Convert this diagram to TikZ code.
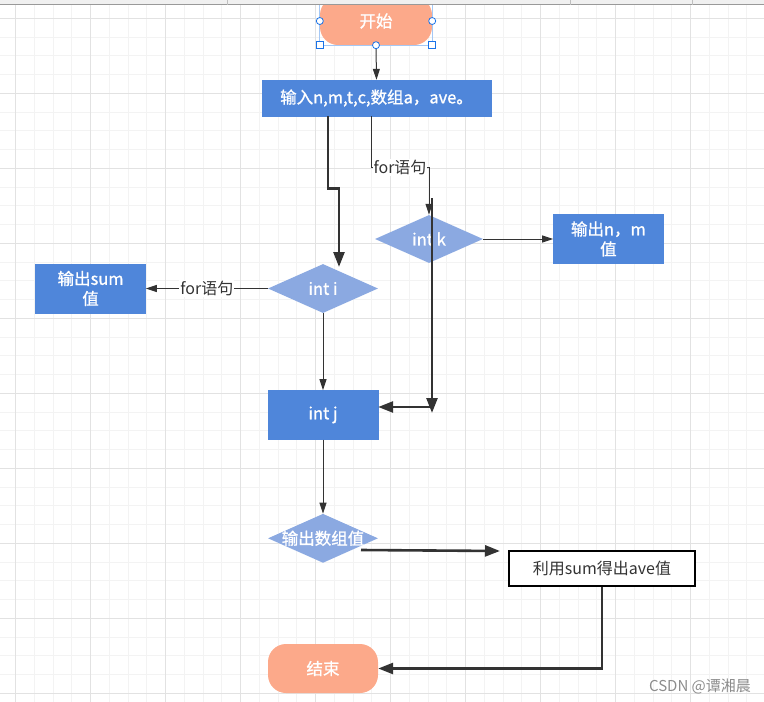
\documentclass[tikz,border=0pt]{standalone}
\usepackage{fontspec}
\setmainfont{Noto Sans CJK SC}
\newfontfamily\boxfont{Noto Sans CJK SC}[FakeBold=1.1]
\usetikzlibrary{positioning,shapes.geometric,arrows.meta}
\definecolor{termfill}{RGB}{252,169,138}
\definecolor{procfill}{RGB}{79,134,218}
\definecolor{decfill}{RGB}{139,169,225}
\definecolor{linecol}{RGB}{51,51,51}
\definecolor{gridminor}{RGB}{243,243,243}
\definecolor{gridmajor}{RGB}{226,226,226}
\definecolor{selblue}{RGB}{26,115,232}
\definecolor{selframe}{RGB}{165,200,245}

\begin{document}
\begin{tikzpicture}[x=1pt,y=-1pt,
		flowfont/.style={font=\boxfont\fontsize{16.5}{20}\selectfont},
		terminal/.style={rectangle,rounded corners=18pt,fill=termfill,text=white,minimum width=110pt,minimum height=49pt,flowfont},
		process/.style={rectangle,fill=procfill,draw=procfill,text=white,align=center,minimum width=110pt,minimum height=49pt,flowfont},
		decision/.style={diamond,aspect=2.2,inner sep=0pt,fill=decfill,text=white,minimum width=110pt,minimum height=49pt,flowfont},
		loop label/.style={fill=white,text=linecol,inner sep=1pt,font=\fontsize{16}{19}\selectfont},
		thin arrow/.style={draw=linecol,line width=1pt,-{Triangle[length=11pt,width=7pt]}},
		thick arrow/.style={draw=linecol,line width=2.6pt,-{Triangle[length=15pt,width=11pt]}}]
		\useasboundingbox (0,0) rectangle (764,702);
		% grid
		\foreach \gx in {0,...,41} \draw[gridminor,line width=.8pt] ({-3.25+18.75*\gx},0) -- ++(0,702);
		\foreach \gy in {0,...,38} \draw[gridminor,line width=.8pt] (0,{-0.45+18.75*\gy}) -- ++(764,0);
		\foreach \gx in {0,...,10} \draw[gridmajor,line width=.8pt] ({15.5+75*\gx},0) -- ++(0,702);
		\foreach \gy in {0,...,9} \draw[gridmajor,line width=.8pt] (0,{18.3+75*\gy}) -- ++(764,0);

		% nodes
		\node[terminal,minimum width=112pt,minimum height=48pt] (start) at (376,21) {开始};
		\node[process,minimum width=229pt,minimum height=36pt] (input) at (376.5,98) {输入n,m,t,c,数组a，ave。};
		\node[decision,minimum width=108pt,minimum height=48pt] (intk) at (429,239) {int k};
		\node[process,right=70pt of intk] (outnm) {输出n，m\\值};
		\node[decision] (inti) at (323,288.5) {int i};
		\node[process,left=122pt of inti] (outsum) {输出sum\\值};
		\node[process,below=77pt of inti] (intj) {int j};
		\node[decision,below=74pt of intj,label={[flowfont,text=white]center:输出数组值}] (outarr) {};
		\node[draw=black,line width=2pt,fill=white,text=linecol,minimum width=186pt,minimum height=35pt,font=\fontsize{16}{19}\selectfont] (calc) at (602,568.5) {利用sum得出ave值};
		\node[terminal] (finish) at (323,668.5) {结束};
		\node[text=black!45,font=\fontsize{15}{17}\selectfont] (mark) at (700,686) {CSDN @谭湘晨};

		\coordinate (iIn) at (339,267);
		\coordinate (kTop) at (432,198);
		\coordinate (kDown) at (432,413);
		\coordinate (jIn) at (432,407);
		\coordinate (aOut) at (361,550);
		\coordinate (cIn) at (500,551);

		% connectors
		\draw[thin arrow] (start.south) -- (input.north);
		\draw[thick arrow] ([xshift=-48.5pt]input.south) -- ++(0,72) -| (iIn);
		\draw[thin arrow] ([xshift=-5.5pt]input.south) -- ++(0,51) -- node[loop label] {for语句} ++(58,0) -- (intk.north);
		\draw[thin arrow] (intk.east) -- (outnm.west);
		\draw[thick arrow] (kTop) -- (kDown);
		\draw[thick arrow] (jIn) -- (intj.east |- jIn);
		\draw[thin arrow] (inti.west) -- node[loop label] {for语句} (outsum.east);
		\draw[thin arrow] (inti.south) -- (intj.north);
		\draw[thin arrow] (intj.south) -- (outarr.north);
		\draw[thick arrow] (aOut) -- (cIn);
		\draw[thick arrow] (calc.south) |- (finish.east);

		% selection handles on the start node
		\draw[selframe,line width=.8pt] (start.south west) rectangle (start.north east);
		\foreach \p in {start.west,start.east,start.south}
			\draw[selblue,fill=white,line width=.8pt] (\p) circle (3.5pt);
		\foreach \p in {start.south west,start.south east}
			\draw[selblue,fill=white,line width=.8pt] ([shift={(-3.5pt,-3.5pt)}]\p) rectangle ++(7pt,7pt);

		% toolbar strip
		\fill[black!6] (0,0) rectangle (764,4.5);
		\draw[black!40,line width=.8pt] (0,4.5) -- (764,4.5);
		\foreach \sx in {227,570,692} \draw[black!25,line width=.8pt] (\sx,0) -- (\sx,4.5);
	\end{tikzpicture}
\end{document}
